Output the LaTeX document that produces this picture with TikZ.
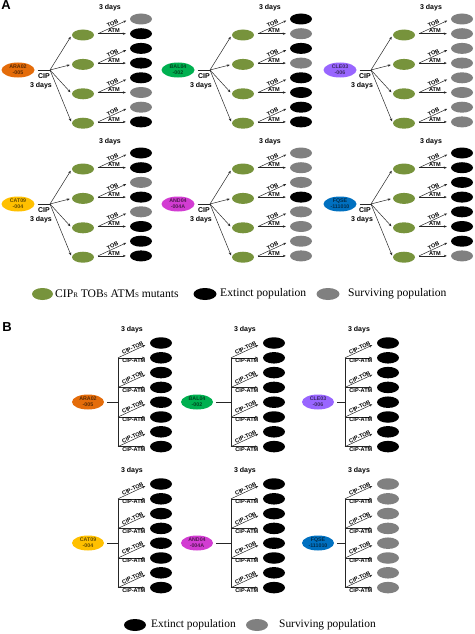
\documentclass[tikz,border=0pt]{standalone}
\usepackage{fontspec}
\setmainfont{Liberation Serif}
\setsansfont{Liberation Sans}
\usepackage{xcolor}
\definecolor{mutgreen}{HTML}{77933C}
\definecolor{survgray}{HTML}{808080}
\definecolor{araorange}{HTML}{E46C0A}
\definecolor{balgreen}{HTML}{00B050}
\definecolor{clepurple}{HTML}{9966FF}
\definecolor{catgold}{HTML}{FFC000}
\definecolor{andmagenta}{HTML}{D23CD2}
\definecolor{fqseblue}{HTML}{0070C0}
\usetikzlibrary{arrows.meta, shapes.geometric, calc}

\begin{document}
\begin{tikzpicture}[x=1pt, y=-1pt,
  pop/.style={ellipse, minimum width=22pt, minimum height=11pt, inner sep=0pt},
  mutant/.style={pop, fill=mutgreen},
  strain/.style={ellipse, minimum width=33pt, minimum height=15pt, inner sep=0pt, align=center,
    font=\sffamily\bfseries\fontsize{5.3}{5.8}\selectfont},
  lab/.style={font=\sffamily\bfseries\fontsize{7}{8}\selectfont, inner sep=0pt},
  tiny/.style={font=\sffamily\bfseries\fontsize{5.6}{6}\selectfont, inner sep=0.6pt},
  leg/.style={font=\fontsize{11.6}{14}\selectfont, anchor=west, inner sep=0pt},
  arr/.style={-{Stealth[length=3pt, width=2.4pt]}, line width=0.5pt, draw=black!85},
]
  \useasboundingbox (0,0) rectangle (474,634);

  % Panel labels
  \node[font=\sffamily\bfseries\fontsize{13}{13}\selectfont] (panA) at (6,5) {A};
  \node[font=\sffamily\bfseries\fontsize{13}{13}\selectfont] (panB) at (7,327) {B};

  % Panel A: strain -> CIP mutants -> TOB / ATM
  \foreach \ox/\oy/\id/\sx/\txt/\col/\fin in {
    0/0/ara/18/{ARA02\\-005}/araorange/{survgray,black,black,black,black,survgray,survgray,black},
    160/0/bal/178/{BAL04\\-002}/balgreen/{black,survgray,black,survgray,black,black,black,black},
    321/0/cle/340/{CLE03\\-006}/clepurple/{survgray,survgray,survgray,survgray,survgray,survgray,survgray,survgray},
    0/134/cat/18/{CAT09\\-004}/catgold/{black,black,survgray,black,survgray,black,black,black},
    160/134/and/178/{AND04\\-004A}/andmagenta/{survgray,survgray,survgray,black,survgray,survgray,survgray,survgray},
    321/134/fqse/340/{FQSE\\-111010}/fqseblue/{black,black,black,black,black,black,black,survgray}}
  {
    \node[strain, fill=\col, text=\col!40!black] (\id-src) at (\sx,\oy+70) {\txt};
    \coordinate (\id-split) at (\ox+50,\oy+70);
    \draw[line width=0.5pt, draw=black!85, shorten <=3pt] (\id-src.east) -- (\id-split);
    \node[lab] (\id-cip) at (\ox+44,\oy+76) {CIP};
    \node[lab] (\id-days) at (\ox+41,\oy+86) {3 days};
    \node[lab] (\id-top) at (\ox+110,\oy+8) {3 days};
    % outcome populations
    \foreach \c [count=\k] in \fin
      \node[pop, fill=\c] (\id-f\k) at ({\ox+141},{\oy+19+14.7*(\k-1)}) {};
    \foreach \i in {1,...,4} {
      \pgfmathtruncatemacro\ka{2*\i-1}
      \pgfmathtruncatemacro\kb{2*\i}
      \node[mutant] (\id-g\i) at ({\ox+83},{\oy+35+29.4*(\i-1)}) {};
      \draw[arr, shorten >=2pt] (\id-split) -- (\id-g\i.west);
      \coordinate (\id-h\i) at ({\ox+98},{\oy+19+14.7*(\kb-1)});
      \draw[arr, shorten >=4pt] (\id-h\i) -- node[tiny, sloped, above] (\id-tob\i) {TOB} (\id-f\ka.west);
      \draw[arr, shorten >=4pt] (\id-h\i) -- node[tiny, above] (\id-atm\i) {ATM} (\id-f\kb.west);
    }
  }

  % Legend A
  \node[mutant, minimum width=21pt, minimum height=12pt] (legmut) at (42.5,294) {};
  \node[leg] (legmuttxt) at (55,294) {CIP{\fontsize{7}{8}\selectfont R} TOB{\fontsize{7}{8}\selectfont S} ATM{\fontsize{7}{8}\selectfont S} mutants};
  \node[pop, fill=black, minimum width=23pt, minimum height=12pt] (legext) at (205,294) {};
  \node[leg] (legexttxt) at (220,294) {Extinct population};
  \node[pop, fill=survgray, minimum width=23pt, minimum height=12pt] (legsurv) at (328,294) {};
  \node[leg] (legsurvtxt) at (348,294) {Surviving population};

  % Panel B: strain -> CIP-TOB / CIP-ATM
  \foreach \ox/\oy/\id/\sx/\txt/\col/\fc in {
    0/0/arab/88/{ARA02\\-005}/araorange/black,
    113/0/balb/197/{BAL04\\-002}/balgreen/black,
    227/0/cleb/318/{CLE03\\-006}/clepurple/black,
    0/141/catb/88/{CAT09\\-004}/catgold/black,
    113/141/andb/197/{AND04\\-004A}/andmagenta/black,
    227/141/fqseb/318/{FQSE\\-111010}/fqseblue/survgray}
  {
    \node[strain, minimum width=32pt, fill=\col, text=\col!40!black] (\id-src) at (\sx,\oy+402) {\txt};
    \coordinate (\id-bar) at (\ox+118,\oy+402);
    \draw[line width=0.5pt, draw=black!85, shorten <=3pt] (\id-src.east) -- (\id-bar);
    \node[lab] (\id-top) at (\ox+132,\oy+330) {3 days};
    \foreach \k in {1,...,8}
      \node[pop, minimum height=11.5pt, fill=\fc] (\id-f\k) at ({\ox+161},{\oy+343+14.8*(\k-1)}) {};
    \foreach \i in {1,...,4} {
      \pgfmathtruncatemacro\ka{2*\i-1}
      \pgfmathtruncatemacro\kb{2*\i}
      \coordinate (\id-h\i) at ({\ox+118},{\oy+343+14.8*(\kb-1)});
      \draw[arr, shorten >=5pt] (\id-h\i) -- node[tiny, sloped, above] (\id-tob\i) {CIP-TOB} (\id-f\ka.west);
      \draw[arr, shorten >=5pt] (\id-h\i) -- node[tiny, below] (\id-atm\i) {CIP-ATM} (\id-f\kb.west);
    }
    \draw[line width=0.5pt, draw=black!85] (\id-h1) -- (\id-h4);
  }

  % Legend B
  \node[pop, fill=black, minimum width=22pt, minimum height=12pt] (legBext) at (135,625) {};
  \node[leg, font=\fontsize{11.4}{13}\selectfont] (legBexttxt) at (151,625) {Extinct population};
  \node[pop, fill=survgray, minimum width=22pt, minimum height=12pt] (legBsurv) at (257,625) {};
  \node[leg, font=\fontsize{11.4}{13}\selectfont] (legBsurvtxt) at (279,625) {Surviving population};
\end{tikzpicture}
\end{document}
